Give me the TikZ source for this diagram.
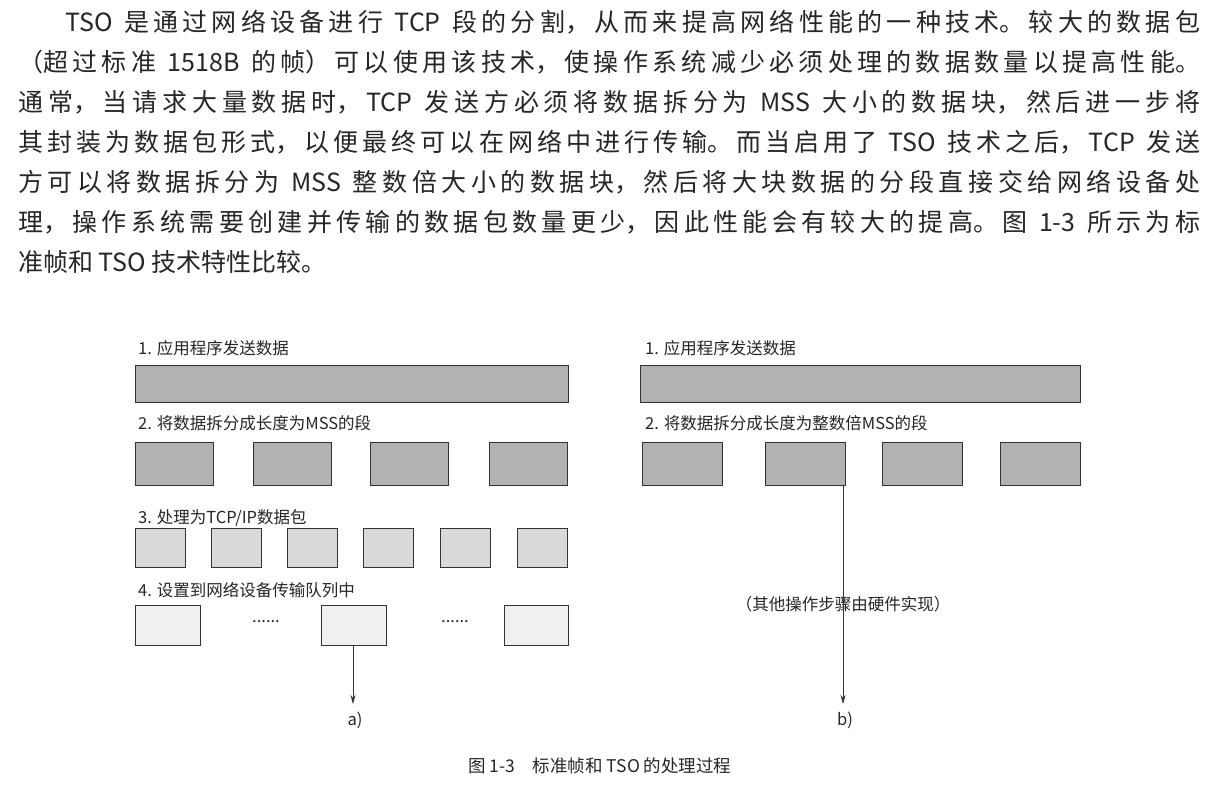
\documentclass[tikz,border=0pt]{standalone}
\usepackage{fontspec}
\setmainfont{Noto Sans CJK SC}
\usetikzlibrary{arrows.meta}
\XeTeXlinebreaklocale "zh"
\XeTeXlinebreakskip=0pt plus 2pt
\tikzset{
  para/.style={anchor=west,inner sep=0pt,font=\fontsize{25}{30}\selectfont\color{black!85}},
  jline/.style={para,text width=#1,align=justify},
  lbl/.style={anchor=west,inner sep=0pt,font=\fontsize{16.5}{20}\selectfont\color{black!85}},
  darkbox/.style={draw=black!80,fill=gray!60,line width=0.8pt},
  midbox/.style={draw=black!80,fill=gray!30,line width=0.8pt},
  lightbox/.style={draw=black!80,fill=gray!12,line width=0.8pt},
  arr/.style={draw=black!80,line width=0.8pt,-{Stealth[length=9pt,width=5pt]}},
}
\newcommand{\jl}[1]{{\parfillskip=0pt\relax #1\par}}
\begin{document}
\begin{tikzpicture}[x=1pt,y=-1pt]
\useasboundingbox (0,0) rectangle (1220,799);
\fill[white] (0,0) rectangle (1220,799);
% paragraph
\node[jline=1135pt] (p1) at (65,22) {\jl{TSO 是通过网络设备进行 TCP 段的分割，从而来提高网络性能的一种技术。较大的数据包}};
\node[jline=1182pt] (p2) at (18,62) {\jl{（超过标准 1518B 的帧）可以使用该技术，使操作系统减少必须处理的数据数量以提高性能。}};
\node[jline=1182pt] (p3) at (18,102) {\jl{通常，当请求大量数据时，TCP 发送方必须将数据拆分为 MSS 大小的数据块，然后进一步将}};
\node[jline=1182pt] (p4) at (18,142) {\jl{其封装为数据包形式，以便最终可以在网络中进行传输。而当启用了 TSO 技术之后，TCP 发送}};
\node[jline=1182pt] (p5) at (18,182) {\jl{方可以将数据拆分为 MSS 整数倍大小的数据块，然后将大块数据的分段直接交给网络设备处}};
\node[jline=1182pt] (p6) at (18,222) {\jl{理，操作系统需要创建并传输的数据包数量更少，因此性能会有较大的提高。图 1-3 所示为标}};
\node[para] (p7) at (18,262) {准帧和 TSO 技术特性比较。};
% left diagram
\node[lbl] (l1) at (138,348) {1. 应用程序发送数据};
\draw[darkbox] (135,365) rectangle (568,402);
\node[lbl] (l2) at (138,423) {2. 将数据拆分成长度为MSS的段};
\foreach \x in {135,253,370,489} \draw[darkbox] (\x,442) rectangle ++(78,43);
\node[lbl] (l3) at (138,518) {3. 处理为TCP/IP数据包};
\foreach \x in {135,211,287,363,440,517} \draw[midbox] (\x,528) rectangle ++(50,39);
\node[lbl] (l4) at (138,590) {4. 设置到网络设备传输队列中};
\draw[lightbox] (135,605) rectangle (200,645);
\draw[lightbox] (321,605) rectangle (386,645);
\draw[lightbox] (504,605) rectangle (568,645);
\node[lbl,anchor=center] (d1) at (266,622) {......};
\node[lbl,anchor=center] (d2) at (455,622) {......};
\coordinate (as) at (353,645);
\node[lbl,anchor=center] (a) at (355,720) {a)};
\draw[arr] (as) -- (353,704);
% right diagram
\node[lbl] (r1) at (645,348) {1. 应用程序发送数据};
\draw[darkbox] (640,365) rectangle (1080,402);
\node[lbl] (r2) at (645,423) {2. 将数据拆分成长度为整数倍MSS的段};
\foreach \x in {642,765,882,1000} \draw[darkbox] (\x,442) rectangle ++(80,43);
\coordinate (bs) at (843,485);
\node[lbl,anchor=center] (note) at (843,604) {（其他操作步骤由硬件实现）};
\node[lbl,anchor=center] (b) at (845,720) {b)};
\draw[arr] (bs) -- (843,704);
% caption
\node[lbl,anchor=center,font=\fontsize{17.5}{20}\selectfont\color{black!85}] (cap) at (600,766) {图 1-3\quad 标准帧和 TSO 的处理过程};
\end{tikzpicture}
\end{document}
